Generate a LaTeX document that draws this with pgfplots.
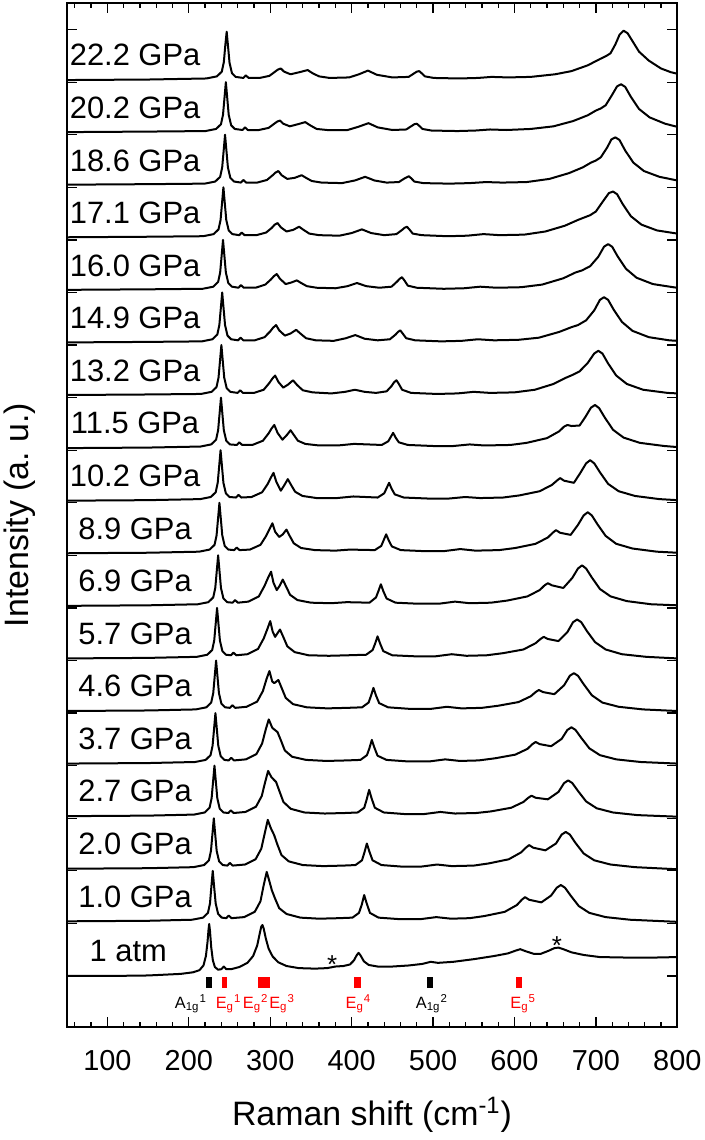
\documentclass[border=0pt]{standalone}
\usepackage{pgfplots}
\pgfplotsset{compat=1.18}
\usepackage{fontspec}
\setmainfont{Liberation Sans}
\newcommand{\lbl}{\fontsize{15.5}{18}\selectfont}
\newcommand{\mode}{\fontsize{8.2}{9}\selectfont}
\pgfplotsset{spec/.style={black, line width=1bp, line join=round, no marks, solid}}
\begin{document}
\begin{tikzpicture}
\begin{axis}[
  width=305.3bp, height=511.85bp, scale only axis,
  xmin=50, xmax=800, ymin=-0.97, ymax=18.5,
  xtick={100,200,...,800},
  minor xtick={60,80,...,800},
  ytick={0,1,...,18}, yticklabels={},
  tick align=inside,
  major tick length=5bp, minor tick length=2.5bp,
  tick style={line width=0.65bp, black},
  axis line style={line width=1bp},
  /pgf/number format/assume math mode=true,
  xticklabel style={font=\fontsize{14.5}{16}\selectfont, yshift=-8.1bp},
  xlabel={Raman shift (cm\textsuperscript{-1})},
  ylabel={Intensity (a.\ u.)},
  xlabel style={font=\fontsize{17}{20}\selectfont, at={(axis description cs:0.5,-0.086)}, anchor=center},
  ylabel style={font=\fontsize{17}{20}\selectfont, at={(axis description cs:-0.0765,0.5)}, anchor=center},
  clip=false,
]
% 1 atm
\addplot[spec] coordinates {(50,0.00)(100,0.00)(150,0.01)(190,0.04)(205,0.07)(213,0.11)(218,0.2)(221,0.38)(223,0.65)(224.2,0.88)(225,0.99)(226,0.86)(227.5,0.55)(229.5,0.3)(232,0.17)(236,0.12)(240,0.13)(243,0.18)(246,0.13)(252,0.13)(262,0.17)(272,0.25)(279,0.38)(284,0.58)(287,0.8)(289,0.94)(290.5,0.97)(292,0.9)(294.5,0.72)(298,0.52)(303,0.37)(310,0.26)(320,0.19)(335,0.15)(355,0.14)(370,0.15)(380,0.18)(390,0.19)(398,0.22)(403,0.3)(406,0.39)(408.5,0.44)(411,0.39)(415,0.28)(421,0.21)(432,0.18)(450,0.18)(470,0.2)(487,0.23)(497,0.27)(506,0.25)(525,0.27)(550,0.32)(575,0.38)(592,0.43)(601,0.48)(607,0.51)(614,0.47)(624,0.42)(632,0.42)(642,0.48)(649,0.53)(654,0.54)(660,0.51)(670,0.45)(685,0.4)(705,0.36)(740,0.35)(770,0.35)(800,0.36)};
% 1.0 GPa
\addplot[spec] coordinates {(50,1.04)(150,1.05)(204,1.07)(217.5,1.11)(223.5,1.2)(226,1.38)(227.6,1.68)(229.4,2.0)(231.2,1.68)(233,1.38)(236,1.18)(240.5,1.11)(246,1.1)(249,1.15)(252.5,1.1)(268,1.12)(281,1.22)(288,1.42)(292,1.73)(295.7,1.98)(299,1.8)(302,1.63)(306,1.47)(311,1.29)(320,1.18)(337,1.11)(360,1.09)(385,1.1)(401,1.11)(409,1.2)(412.5,1.36)(415.4,1.54)(418.5,1.38)(422.5,1.2)(433,1.11)(460,1.08)(484,1.08)(504,1.12)(522,1.09)(545,1.1)(563,1.14)(588,1.22)(603,1.35)(609,1.45)(613,1.5)(618,1.45)(633,1.4)(645,1.53)(652,1.68)(657,1.73)(662,1.68)(669,1.53)(679,1.33)(692,1.2)(712,1.12)(742,1.07)(800,1.03)};
% 2.0 GPa
\addplot[spec] coordinates {(50,2.04)(150,2.05)(205.7,2.07)(218.7,2.11)(224.7,2.2)(227.2,2.38)(228.9,2.68)(230.7,3.0)(232.5,2.68)(234.2,2.38)(237.2,2.18)(241.7,2.11)(247.4,2.1)(250.4,2.15)(253.9,2.1)(269,2.12)(282,2.22)(289,2.42)(293.5,2.73)(297,2.97)(300.5,2.82)(304.8,2.68)(308.8,2.5)(313.8,2.3)(322.8,2.18)(340,2.11)(365,2.09)(390,2.1)(404.7,2.11)(412.7,2.2)(415.7,2.35)(418.7,2.52)(421.7,2.37)(425.7,2.2)(436.7,2.11)(462,2.08)(485,2.08)(505,2.12)(523,2.09)(550,2.1)(568,2.14)(593,2.22)(608,2.35)(614,2.44)(618,2.49)(623,2.44)(638,2.39)(651,2.52)(658,2.69)(663,2.74)(668,2.69)(675,2.53)(685,2.33)(698,2.2)(718,2.12)(748,2.07)(800,2.03)};
% 2.7 GPa
\addplot[spec] coordinates {(50,3.04)(150,3.05)(206.5,3.07)(219.5,3.11)(225.5,3.2)(228,3.38)(229.7,3.68)(231.5,4.0)(233.3,3.68)(235,3.38)(238,3.18)(242.5,3.11)(248.6,3.1)(251.6,3.15)(255.1,3.1)(269.5,3.12)(282.5,3.22)(289.5,3.42)(294,3.7)(297.4,3.9)(301.5,3.78)(307.2,3.69)(311.2,3.52)(316.2,3.31)(325.2,3.18)(342,3.11)(367,3.09)(392,3.1)(407.5,3.11)(415.5,3.2)(418.5,3.36)(421.5,3.54)(424.5,3.38)(428.5,3.2)(439.5,3.11)(465,3.08)(489,3.08)(509,3.12)(527,3.09)(553,3.1)(571,3.13)(596,3.2)(611,3.31)(617,3.39)(621,3.43)(626,3.39)(641,3.36)(654,3.5)(661,3.67)(666,3.72)(671,3.67)(678,3.52)(688,3.32)(701,3.19)(721,3.11)(751,3.06)(800,3.03)};
% 3.7 GPa
\addplot[spec] coordinates {(50,4.04)(150,4.05)(207.7,4.07)(220.7,4.11)(226.7,4.2)(229.2,4.38)(230.9,4.68)(232.7,5.0)(234.5,4.68)(236.2,4.38)(239.2,4.18)(243.7,4.11)(249,4.1)(252,4.15)(255.5,4.1)(270,4.12)(283,4.22)(290,4.42)(294.7,4.7)(298.2,4.88)(302.5,4.72)(308.9,4.64)(312.9,4.49)(317.9,4.29)(326.9,4.17)(344,4.11)(369,4.09)(394,4.1)(410.8,4.11)(418.8,4.2)(421.8,4.33)(424.8,4.49)(427.8,4.35)(431.8,4.19)(442.8,4.11)(470,4.08)(495,4.08)(515,4.12)(533,4.09)(556,4.1)(576,4.14)(601,4.21)(616,4.32)(622,4.41)(626,4.45)(631,4.41)(645,4.37)(658,4.51)(665,4.68)(670,4.73)(675,4.68)(682,4.53)(692,4.33)(705,4.2)(725,4.12)(755,4.07)(800,4.04)};
% 4.6 GPa
\addplot[spec] coordinates {(50,5.04)(150,5.05)(208.5,5.07)(221.5,5.11)(227.5,5.2)(230,5.38)(231.7,5.68)(233.5,6.0)(235.3,5.68)(237,5.38)(240,5.18)(244.5,5.11)(250.5,5.1)(253.5,5.15)(257,5.1)(271,5.12)(284,5.22)(291,5.42)(295.5,5.65)(299,5.8)(302.5,5.6)(305,5.57)(310,5.63)(314,5.48)(319,5.29)(328,5.17)(345,5.11)(370,5.09)(395,5.1)(412.8,5.11)(420.8,5.2)(423.8,5.33)(426.8,5.48)(429.8,5.34)(433.8,5.19)(444.8,5.11)(472,5.08)(497,5.08)(517,5.12)(535,5.09)(560,5.1)(580,5.14)(605,5.21)(620,5.32)(626,5.4)(630,5.44)(635,5.4)(649,5.36)(661,5.53)(668,5.71)(673,5.76)(678,5.71)(685,5.55)(695,5.34)(708,5.2)(728,5.12)(758,5.07)(800,5.04)};
% 5.7 GPa
\addplot[spec] coordinates {(50,6.04)(150,6.05)(209.7,6.07)(222.7,6.11)(228.7,6.2)(231.2,6.38)(232.9,6.68)(234.7,7.0)(236.5,6.68)(238.2,6.38)(241.2,6.18)(245.7,6.11)(251.8,6.1)(254.8,6.15)(258.3,6.1)(272,6.12)(285,6.22)(292,6.42)(296.5,6.6)(300,6.75)(303,6.55)(306,6.45)(309,6.52)(312,6.59)(316,6.45)(321,6.27)(330,6.16)(347,6.1)(372,6.09)(396,6.1)(417.8,6.11)(425.8,6.2)(428.8,6.32)(431.8,6.46)(434.8,6.33)(438.8,6.18)(449.8,6.1)(478,6.08)(503,6.08)(523,6.12)(541,6.09)(566,6.1)(586,6.14)(611,6.21)(626,6.33)(632,6.41)(636,6.45)(641,6.41)(654,6.37)(665,6.54)(672,6.73)(677,6.78)(682,6.73)(689,6.56)(699,6.35)(712,6.21)(732,6.12)(762,6.07)(800,6.04)};
% 6.9 GPa
\addplot[spec] coordinates {(50,7.04)(150,7.05)(211,7.07)(224,7.11)(230,7.2)(232.5,7.38)(234.2,7.68)(236,8.0)(237.8,7.68)(239.5,7.38)(242.5,7.18)(247,7.11)(253.8,7.1)(256.8,7.15)(260.3,7.1)(273,7.12)(286,7.22)(293,7.42)(297.5,7.58)(301,7.69)(304,7.48)(308,7.34)(311.5,7.42)(315.4,7.54)(319.4,7.41)(324.4,7.25)(333.4,7.15)(350,7.1)(375,7.09)(394,7.11)(421.9,7.1)(429.9,7.2)(432.9,7.32)(435.9,7.45)(438.9,7.32)(442.9,7.18)(453.9,7.1)(482,7.08)(507,7.08)(527,7.12)(545,7.09)(571,7.1)(591,7.14)(616,7.22)(631,7.34)(637,7.43)(641,7.47)(646,7.43)(660,7.38)(671,7.57)(678,7.75)(683,7.81)(688,7.75)(695,7.58)(705,7.36)(718,7.22)(738,7.13)(768,7.07)(800,7.05)};
% 8.9 GPa
\addplot[spec] coordinates {(50,8.04)(150,8.05)(212.6,8.07)(225.6,8.11)(231.6,8.2)(234.1,8.38)(235.8,8.68)(237.6,9.0)(239.4,8.68)(241.1,8.38)(244.1,8.18)(248.6,8.11)(255.8,8.1)(258.8,8.15)(262.3,8.1)(275,8.11)(288,8.2)(295,8.37)(299.2,8.5)(302.7,8.61)(306,8.45)(311,8.35)(315.5,8.4)(319.9,8.49)(323.9,8.37)(328.9,8.23)(337.9,8.14)(355,8.1)(380,8.09)(398,8.11)(428.4,8.1)(436.4,8.18)(439.4,8.29)(442.4,8.4)(445.4,8.29)(449.4,8.17)(460.4,8.1)(490,8.08)(513,8.08)(533.5,8.12)(552,8.09)(581,8.1)(601,8.14)(626,8.22)(641,8.34)(647,8.43)(651,8.48)(656,8.43)(669,8.39)(678,8.58)(685,8.76)(690,8.82)(695,8.76)(702,8.59)(712,8.37)(725,8.22)(745,8.13)(775,8.07)(800,8.05)};
% 10.2 GPa
\addplot[spec] coordinates {(50,9.04)(150,9.05)(214,9.07)(227,9.11)(233,9.2)(235.5,9.38)(237.2,9.68)(239,10.0)(240.8,9.68)(242.5,9.38)(245.5,9.18)(250,9.11)(258,9.1)(261,9.15)(264.5,9.1)(277,9.11)(290,9.2)(297,9.36)(300.5,9.47)(304,9.57)(307.5,9.4)(313,9.23)(317.5,9.34)(321.6,9.45)(325.6,9.34)(330.6,9.21)(339.6,9.13)(357,9.09)(382,9.09)(402,9.12)(432,9.1)(440,9.18)(443,9.28)(446,9.38)(449,9.27)(453,9.16)(464,9.1)(495,9.08)(519,9.08)(539.5,9.11)(558,9.09)(586,9.1)(606,9.14)(631,9.22)(646,9.34)(652,9.42)(656,9.47)(661,9.42)(673,9.38)(681,9.57)(688,9.75)(693,9.81)(698,9.75)(705,9.58)(715,9.36)(728,9.22)(748,9.13)(778,9.07)(800,9.05)};
% 11.5 GPa
\addplot[spec] coordinates {(50,10.04)(150,10.05)(214.5,10.07)(227.5,10.11)(233.5,10.2)(236,10.38)(237.7,10.68)(239.5,11.0)(241.3,10.68)(243,10.38)(246,10.18)(250.5,10.11)(259,10.1)(262,10.15)(265.5,10.1)(278,10.1)(291,10.18)(298,10.32)(301.5,10.41)(305,10.48)(309,10.33)(315,10.2)(320.5,10.29)(325,10.38)(329,10.29)(334,10.18)(343,10.12)(360,10.09)(383,10.09)(403,10.12)(437,10.1)(445,10.17)(448,10.25)(451,10.33)(454,10.24)(458,10.15)(469,10.1)(500,10.08)(525,10.08)(545,10.11)(563,10.09)(595,10.1)(615,10.14)(640,10.23)(655,10.36)(661,10.45)(665,10.48)(670,10.46)(680,10.47)(687,10.63)(694,10.81)(699,10.86)(704,10.8)(711,10.62)(721,10.39)(734,10.24)(754,10.14)(784,10.08)(800,10.06)};
% 13.2 GPa
\addplot[spec] coordinates {(50,11.05)(150,11.06)(215,11.07)(228,11.11)(234,11.2)(236.5,11.38)(238.2,11.68)(240,12.0)(241.8,11.68)(243.5,11.38)(246.5,11.18)(251,11.11)(260,11.09)(263,11.14)(266.5,11.09)(280,11.09)(292,11.15)(299,11.28)(302.5,11.36)(306,11.42)(310,11.3)(316,11.19)(322,11.25)(328,11.33)(333,11.24)(340,11.14)(352,11.1)(375,11.08)(392,11.11)(404,11.15)(416,11.11)(430,11.09)(443,11.12)(449,11.22)(452,11.29)(455,11.33)(458,11.26)(462,11.15)(473,11.09)(505,11.07)(530,11.08)(550,11.11)(570,11.09)(600,11.1)(625,11.15)(648,11.26)(662,11.37)(671,11.43)(680,11.5)(690,11.66)(698,11.84)(703,11.89)(708,11.84)(715,11.65)(725,11.42)(738,11.26)(758,11.15)(788,11.09)(800,11.08)};
% 14.9 GPa
\addplot[spec] coordinates {(50,12.05)(150,12.06)(216,12.07)(229,12.11)(235,12.2)(237.5,12.38)(239.2,12.68)(241,13.0)(242.8,12.68)(244.5,12.38)(247.5,12.18)(252,12.11)(260.5,12.09)(263.5,12.14)(267,12.09)(281,12.09)(293,12.15)(300,12.26)(303.5,12.33)(307.2,12.38)(311,12.28)(318,12.18)(325,12.22)(331.8,12.29)(337,12.22)(344,12.13)(356,12.09)(378,12.08)(393,12.13)(404.5,12.19)(416,12.12)(432,12.09)(447,12.11)(454,12.2)(457,12.25)(459.7,12.28)(462.7,12.22)(467,12.13)(478,12.09)(510,12.07)(535,12.08)(555,12.11)(575,12.09)(605,12.1)(630,12.14)(655,12.25)(670,12.34)(678,12.38)(688,12.47)(698,12.66)(705,12.86)(710,12.91)(715,12.86)(722,12.67)(732,12.44)(745,12.27)(765,12.15)(790,12.09)(800,12.08)};
% 16.0 GPa
\addplot[spec] coordinates {(50,13.05)(150,13.06)(217,13.07)(230,13.11)(236,13.2)(238.5,13.38)(240.2,13.68)(242,14.0)(243.8,13.68)(245.5,13.38)(248.5,13.18)(253,13.11)(261,13.09)(264,13.14)(267.5,13.09)(282,13.09)(294,13.15)(301,13.25)(304.5,13.31)(308,13.35)(312,13.26)(319,13.16)(326,13.19)(332.7,13.23)(338,13.18)(345,13.12)(357,13.09)(380,13.08)(395,13.12)(406.5,13.18)(418,13.12)(434,13.09)(449,13.11)(456,13.21)(459,13.26)(461.8,13.29)(464.8,13.23)(469,13.13)(480,13.09)(513,13.07)(538,13.08)(558,13.11)(578,13.09)(608,13.1)(634,13.15)(660,13.27)(675,13.38)(683,13.42)(693,13.5)(703,13.68)(710,13.87)(715,13.92)(720,13.87)(727,13.68)(737,13.45)(750,13.28)(770,13.16)(795,13.1)(800,13.09)};
% 17.1 GPa
\addplot[spec] coordinates {(50,14.05)(150,14.06)(217.5,14.07)(230.5,14.11)(236.5,14.2)(239,14.38)(240.7,14.68)(242.5,15.0)(244.3,14.68)(246,14.38)(249,14.18)(253.5,14.11)(262,14.09)(265,14.14)(268.5,14.09)(283,14.09)(295,14.14)(302,14.23)(305.5,14.29)(309,14.32)(313,14.24)(320,14.16)(328,14.19)(335.5,14.25)(341,14.19)(348,14.12)(360,14.09)(385,14.08)(400,14.13)(412.6,14.2)(424,14.13)(440,14.09)(455,14.11)(462,14.19)(465,14.23)(467.9,14.25)(470.9,14.2)(475,14.12)(486,14.09)(518,14.07)(542,14.08)(562,14.11)(582,14.09)(612,14.1)(638,14.16)(662,14.27)(678,14.38)(688,14.44)(693,14.47)(700,14.54)(709,14.74)(716,14.89)(721,14.92)(726,14.87)(733,14.68)(743,14.45)(756,14.29)(775,14.18)(800,14.12)};
% 18.6 GPa
\addplot[spec] coordinates {(50,15.05)(150,15.06)(219.5,15.07)(232.5,15.11)(238.5,15.2)(241,15.38)(242.7,15.68)(244.5,16.0)(246.3,15.68)(248,15.38)(251,15.18)(255.5,15.11)(264,15.09)(267,15.14)(270.5,15.09)(284,15.09)(296,15.14)(303,15.23)(306.5,15.28)(310,15.31)(314,15.23)(321,15.16)(330,15.18)(338.6,15.23)(344,15.18)(351,15.12)(363,15.09)(388,15.08)(404,15.13)(416.6,15.2)(428,15.13)(443,15.09)(458,15.1)(465,15.17)(467.7,15.19)(470.3,15.21)(473.3,15.17)(477,15.11)(488,15.08)(520,15.07)(545,15.08)(565,15.1)(585,15.09)(615,15.1)(643,15.16)(667,15.27)(684,15.38)(694,15.47)(700,15.51)(706,15.57)(714,15.76)(719,15.91)(724,15.95)(729,15.9)(736,15.7)(746,15.47)(759,15.31)(778,15.2)(800,15.13)};
% 20.2 GPa
\addplot[spec] coordinates {(50,16.05)(150,16.06)(220.5,16.07)(233.5,16.11)(239.5,16.2)(242,16.38)(243.7,16.68)(245.5,17.0)(247.3,16.68)(249,16.38)(252,16.18)(256.5,16.11)(266,16.09)(269,16.14)(272.5,16.09)(286,16.09)(298,16.13)(305,16.21)(308.5,16.25)(312,16.27)(316,16.21)(324,16.16)(334,16.2)(343,16.24)(349,16.18)(357,16.11)(370,16.09)(395,16.09)(408,16.15)(420.7,16.22)(432,16.14)(450,16.09)(467,16.1)(474,16.17)(477,16.2)(480,16.21)(483,16.17)(487,16.11)(498,16.08)(530,16.07)(552,16.08)(570,16.1)(590,16.09)(620,16.11)(648,16.16)(672,16.26)(690,16.37)(700,16.46)(706,16.5)(712,16.56)(720,16.76)(726,16.92)(731,16.96)(736,16.91)(743,16.72)(753,16.49)(766,16.33)(785,16.21)(800,16.15)};
% 22.2 GPa
\addplot[spec] coordinates {(50,17.04)(150,17.05)(221.5,17.07)(234.5,17.11)(240.5,17.2)(243,17.38)(244.7,17.68)(246.5,17.96)(248.3,17.66)(250,17.37)(253,17.17)(257.5,17.1)(267,17.08)(270,17.13)(273.5,17.08)(287,17.08)(299,17.12)(306,17.2)(309.5,17.24)(313,17.26)(317,17.2)(325,17.15)(336,17.19)(346,17.23)(352,17.17)(360,17.11)(373,17.08)(397,17.09)(409,17.15)(420,17.22)(431,17.14)(450,17.09)(470,17.1)(477,17.17)(480,17.2)(483,17.21)(486,17.17)(490,17.11)(501,17.08)(532,17.07)(555,17.08)(572,17.1)(592,17.09)(620,17.1)(650,17.15)(670,17.21)(690,17.32)(705,17.44)(713,17.5)(718,17.55)(724,17.72)(729,17.9)(734,17.98)(739,17.93)(745,17.78)(753,17.58)(765,17.41)(780,17.26)(792,17.19)(800,17.16)};
% mode markers
\addplot[fill=black, draw=none, no marks] coordinates {(221.2,-0.013)(228,-0.013)(228,-0.234)(221.2,-0.234)};
\addplot[fill=red, draw=none, no marks] coordinates {(240.2,-0.013)(246.8,-0.013)(246.8,-0.234)(240.2,-0.234)};
\addplot[fill=red, draw=none, no marks] coordinates {(285.4,-0.013)(299.3,-0.013)(299.3,-0.234)(285.4,-0.234)};
\addplot[fill=red, draw=none, no marks] coordinates {(403,-0.013)(411,-0.013)(411,-0.234)(403,-0.234)};
\addplot[fill=black, draw=none, no marks] coordinates {(492.8,-0.013)(499.8,-0.013)(499.8,-0.234)(492.8,-0.234)};
\addplot[fill=red, draw=none, no marks] coordinates {(601.3,-0.013)(609.4,-0.013)(609.4,-0.234)(601.3,-0.234)};
% mode labels
\node[anchor=base west, inner sep=0pt, font=\mode] at (axis cs:182.5,-0.614) {A\textsubscript{1g}\textsuperscript{1}};
\node[anchor=base west, inner sep=0pt, font=\mode, text=red] at (axis cs:232.6,-0.614) {E\textsubscript{g}\textsuperscript{1}};
\node[anchor=base west, inner sep=0pt, font=\mode, text=red] at (axis cs:265.9,-0.614) {E\textsubscript{g}\textsuperscript{2}};
\node[anchor=base west, inner sep=0pt, font=\mode, text=red] at (axis cs:298.4,-0.614) {E\textsubscript{g}\textsuperscript{3}};
\node[anchor=base west, inner sep=0pt, font=\mode, text=red] at (axis cs:392.2,-0.614) {E\textsubscript{g}\textsuperscript{4}};
\node[anchor=base west, inner sep=0pt, font=\mode] at (axis cs:478.5,-0.614) {A\textsubscript{1g}\textsuperscript{2}};
\node[anchor=base west, inner sep=0pt, font=\mode, text=red] at (axis cs:594.5,-0.614) {E\textsubscript{g}\textsuperscript{5}};
% stars
\node[inner sep=0pt, font=\fontsize{13}{13}\selectfont] at (axis cs:376,0.21) {*};
\node[inner sep=0pt, font=\fontsize{13}{13}\selectfont] at (axis cs:652,0.57) {*};
% pressure labels
\node[anchor=base, inner sep=0pt, font=\lbl] at (axis cs:125.6,0.27) {1 atm};
\node[anchor=base, inner sep=0pt, font=\lbl] at (axis cs:134,1.31) {1.0 GPa};
\node[anchor=base, inner sep=0pt, font=\lbl] at (axis cs:134,2.31) {2.0 GPa};
\node[anchor=base, inner sep=0pt, font=\lbl] at (axis cs:134,3.31) {2.7 GPa};
\node[anchor=base, inner sep=0pt, font=\lbl] at (axis cs:134,4.31) {3.7 GPa};
\node[anchor=base, inner sep=0pt, font=\lbl] at (axis cs:134,5.31) {4.6 GPa};
\node[anchor=base, inner sep=0pt, font=\lbl] at (axis cs:134,6.31) {5.7 GPa};
\node[anchor=base, inner sep=0pt, font=\lbl] at (axis cs:134,7.31) {6.9 GPa};
\node[anchor=base, inner sep=0pt, font=\lbl] at (axis cs:134,8.31) {8.9 GPa};
\node[anchor=base, inner sep=0pt, font=\lbl] at (axis cs:134,9.31) {10.2 GPa};
\node[anchor=base, inner sep=0pt, font=\lbl] at (axis cs:134,10.31) {11.5 GPa};
\node[anchor=base, inner sep=0pt, font=\lbl] at (axis cs:134,11.31) {13.2 GPa};
\node[anchor=base, inner sep=0pt, font=\lbl] at (axis cs:134,12.31) {14.9 GPa};
\node[anchor=base, inner sep=0pt, font=\lbl] at (axis cs:134,13.31) {16.0 GPa};
\node[anchor=base, inner sep=0pt, font=\lbl] at (axis cs:134,14.31) {17.1 GPa};
\node[anchor=base, inner sep=0pt, font=\lbl] at (axis cs:134,15.31) {18.6 GPa};
\node[anchor=base, inner sep=0pt, font=\lbl] at (axis cs:134,16.31) {20.2 GPa};
\node[anchor=base, inner sep=0pt, font=\lbl] at (axis cs:134,17.32) {22.2 GPa};
\end{axis}
\pgfresetboundingbox
\path[use as bounding box] ([shift={(-33.35bp,-56.5bp)}]current axis.south west) rectangle ([shift={(13.85bp,1.65bp)}]current axis.north east);
\end{tikzpicture}
\end{document}
